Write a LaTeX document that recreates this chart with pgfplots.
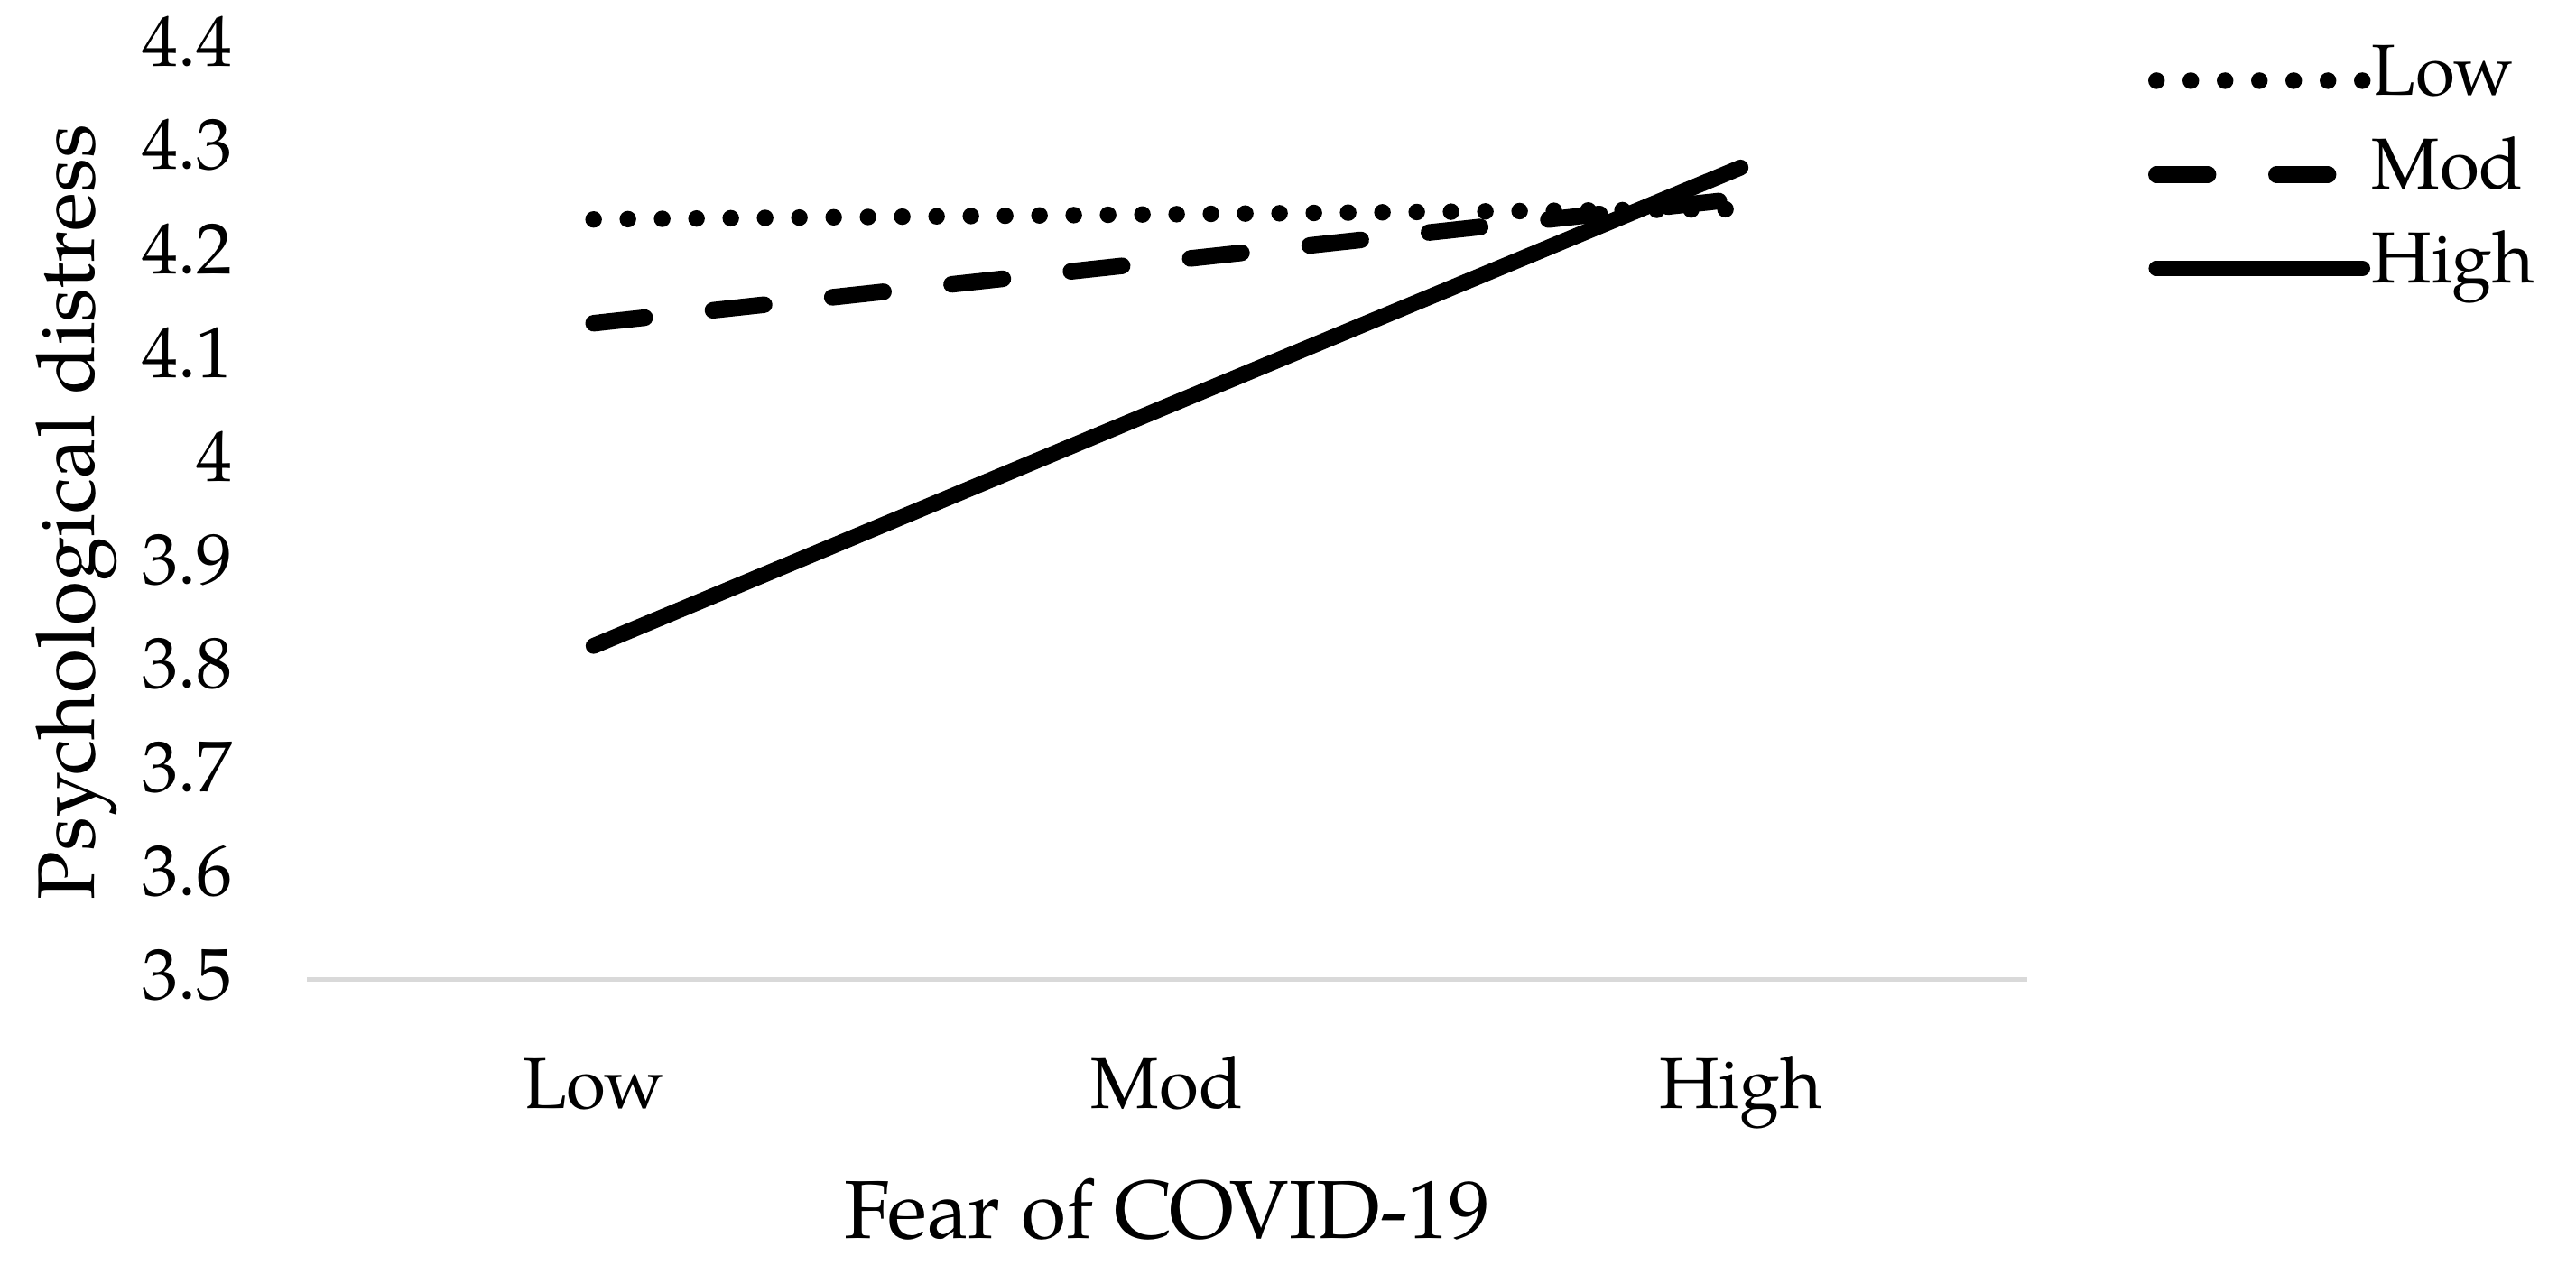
\documentclass[border=0pt]{standalone}
\usepackage{fontspec}
\setmainfont{TeX Gyre Pagella}
\usepackage{pgfplots}
\pgfplotsset{compat=1.18}
\definecolor{axisgray}{HTML}{D9D9D9}
\begin{document}
\fontsize{20}{24}\selectfont
\begin{tikzpicture}
\path[use as bounding box] (-85pt,-79pt) rectangle (628.5pt,271.25pt);
\begin{axis}[
  at={(0pt,0pt)}, anchor=south west,
  scale only axis, width=476.5pt, height=258.75pt,
  xmin=-0.5, xmax=2.5, ymin=3.5, ymax=4.4,
  clip=false,
  axis lines*=left,
  y axis line style={draw=none},
  x axis line style={draw=axisgray, line width=1.25pt},
  major tick length=0pt,
  tick style={draw=none},
  xtick={0,1,2},
  xticklabels={Low,Mod,High},
  ytick={3.5,3.6,3.7,3.8,3.9,4.0,4.1,4.2,4.3,4.4},
  yticklabels={3.5,3.6,3.7,3.8,3.9,4,4.1,4.2,4.3,4.4},
  yticklabel style={anchor=east, inner sep=0pt, xshift=-20.5pt, yshift=1pt},
  xticklabel style={anchor=base, inner sep=0pt, yshift=-35.75pt},
  xlabel={Fear of COVID-19},
  ylabel={Psychological distress},
  xlabel style={at={(axis description cs:0.5,-0.27826)}, anchor=base, inner sep=0pt, font=\fontsize{22.8}{26}\selectfont},
  ylabel style={at={(axis description cs:-0.12330,0.5)}, anchor=base, inner sep=0pt, font=\fontsize{22.3}{26}\selectfont},
  legend cell align=left,
  legend style={draw=none, fill=none, at={(axis description cs:1.06506,1.00483)},
    anchor=north west, inner sep=0pt, outer sep=0pt, row sep=6pt, column sep=-2.25pt,
    nodes={inner sep=0pt, outer sep=0pt, text height=15pt, text depth=5pt, anchor=base west}},
  legend image code/.code={\draw[#1] (2.5pt,3.9pt) -- (59.5pt,3.9pt); \path (0pt,0pt) (62pt,0pt);},
]
\addplot[black, line width=4.6pt, line cap=round, line join=round, dash pattern=on 0pt off 9.5pt]
  coordinates {(0,4.232) (1,4.237) (2,4.242)};
\addlegendentry{Low}
\addplot[black, line width=4.6pt, line cap=round, line join=round, dash pattern=on 14.25pt off 19pt]
  coordinates {(0,4.132) (1,4.192) (2,4.252)};
\addlegendentry{Mod}
\addplot[black, line width=4.4pt, line cap=round, line join=round]
  coordinates {(0,3.821) (1,4.052) (2,4.282)};
\addlegendentry{High}
\end{axis}
\end{tikzpicture}
\end{document}
